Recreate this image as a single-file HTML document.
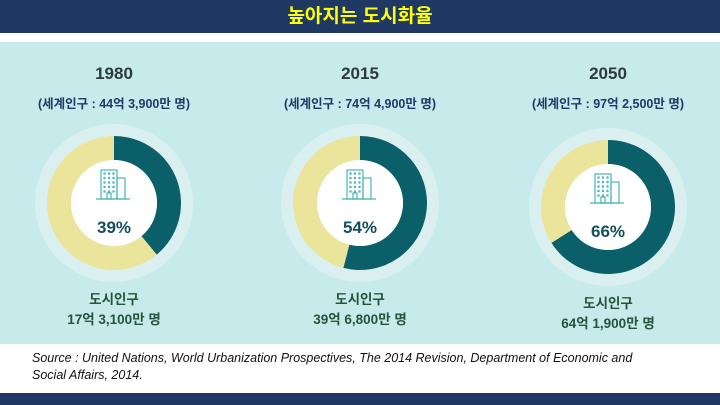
<!DOCTYPE html>
<html><head><meta charset="utf-8"><style>
html,body{margin:0;padding:0}
body{width:720px;height:405px;overflow:hidden;background:#fff;font-family:"Liberation Sans","Noto Sans CJK KR",sans-serif;position:relative}
#title{position:absolute;left:0;top:0;width:720px;height:33px;background:#1f3864;color:#ffff00;font-weight:bold;font-size:19px;text-align:center;line-height:33px}
#panel{position:absolute;left:0;top:42px;width:720px;height:302px;background:#c7eaea}
#src{position:absolute;left:32px;top:350px;font-style:italic;font-size:12.5px;line-height:17px;color:#111}
#foot{position:absolute;left:0;top:393px;width:720px;height:12px;background:#1f3864}
svg{position:absolute;left:0;top:0}
</style></head><body>
<div id="title">높아지는 도시화율</div>
<div id="panel"></div>
<svg id="chart" width="720" height="405"></svg>
<div id="src">Source : United Nations, World Urbanization Prospectives, The 2014 Revision, Department of Economic and<br>Social Affairs, 2014.</div>
<div id="foot"></div>
<script>
const years=["1980","2015","2050"];
const urbanPct=[39,54,66];
const worldPop=["(세계인구 : 44억 3,900만 명)","(세계인구 : 74억 4,900만 명)","(세계인구 : 97억 2,500만 명)"];
const urbanPop=["17억 3,100만 명","39억 6,800만 명","64억 1,900만 명"];
const NS="http://www.w3.org/2000/svg";
const svg=document.getElementById('chart');
const cx=[114,360,608], cy=[203,203,207];
const R=67, r=43, halo=79;
function mk(t,a,p){const e=document.createElementNS(NS,t);for(const k in a)e.setAttribute(k,a[k]);(p||svg).appendChild(e);return e;}
function pt(x,y,rad,f){const a=f*2*Math.PI-Math.PI/2;return [x+rad*Math.cos(a),y+rad*Math.sin(a)];}
function arc(x,y,f0,f1){
  const [a,b]=pt(x,y,R,f0),[c,d]=pt(x,y,R,f1),[e,f]=pt(x,y,r,f1),[g,h]=pt(x,y,r,f0);
  const lg=(f1-f0)>0.5?1:0;
  return `M${a},${b}A${R},${R} 0 ${lg} 1 ${c},${d}L${e},${f}A${r},${r} 0 ${lg} 0 ${g},${h}Z`;
}
years.forEach((y,i)=>{
  const x=cx[i],yc=cy[i],f=urbanPct[i]/100;
  const g=mk('g',{});
  
  
  let t=mk('text',{x:x,y:79,'text-anchor':'middle','font-size':17,'font-weight':'bold',fill:'#2b3a40'},g);
  t.textContent=y;
  
  
  t=mk('text',{x:x,y:108,'text-anchor':'middle','font-size':12.5,'font-weight':'bold',fill:'#1c3a6a'},g);
  t.textContent=worldPop[i];
  
  
  const h=mk('circle',{cx:x,cy:yc,r:halo,fill:'#daf0f0'},g);
  
  
  const s1=mk('path',{d:arc(x,yc,0,f),fill:'#0b5f68'},g);
  
  
  const s2=mk('path',{d:arc(x,yc,f,1),fill:'#ebe49b'},g);
  
  
  const c=mk('circle',{cx:x,cy:yc,r:r,fill:'#fff'},g);
  
  
  // building icon
  const ic=mk('g',{stroke:'#4bb3b3','stroke-width':1.2,fill:'none'},g);
  
  
  mk('rect',{x:x-13,y:yc-33,width:16,height:29},ic);
  mk('rect',{x:x+3,y:yc-25,width:8,height:21},ic);
  mk('line',{x1:x-18,y1:yc-4,x2:x+16,y2:yc-4},ic);
  mk('rect',{x:x-7,y:yc-10,width:4,height:6},ic);
  for(let rr=0;rr<5;rr++)for(let cc=0;cc<3;cc++)mk('rect',{x:x-10+cc*4.5,y:yc-30+rr*4.5,width:1,height:1,fill:'#4bb3b3'},ic);
  t=mk('text',{x:x,y:yc+30,'text-anchor':'middle','font-size':17,'font-weight':'bold',fill:'#134f5c'},g);
  t.textContent=urbanPct[i]+'%';
  
  
  t=mk('text',{x:x,y:yc+101,'text-anchor':'middle','font-size':13.5,'font-weight':'bold',fill:'#24553a'},g);
  t.textContent='도시인구';
  
  
  t=mk('text',{x:x,y:yc+121,'text-anchor':'middle','font-size':13.5,'font-weight':'bold',fill:'#24553a'},g);
  t.textContent=urbanPop[i];
  
  
});
</script>
</body></html>
